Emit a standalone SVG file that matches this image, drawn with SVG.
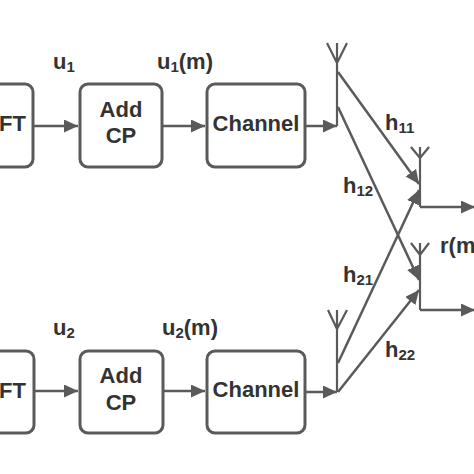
<svg xmlns="http://www.w3.org/2000/svg" width="474" height="474" viewBox="0 0 474 474">
<style>
  .box{fill:#ffffff;stroke:#5a5a5a;stroke-width:3}
  .ln{fill:none;stroke:#5a5a5a;stroke-width:2.5}
  .ant{fill:none;stroke:#5a5a5a;stroke-width:2.2}
  .t{font-family:"Liberation Sans",Arial,sans-serif;font-weight:bold;font-size:22px;fill:#333333}
  .c{text-anchor:middle}
</style>
<defs>
  <marker id="ah" markerUnits="userSpaceOnUse" markerWidth="16" markerHeight="14" refX="14" refY="6.5" orient="auto">
    <path d="M0,0 L14,6.5 L0,13 Z" fill="#5a5a5a"/>
  </marker>
</defs>
<rect width="474" height="474" fill="#ffffff"/>

<g id="ifft1">
  <rect class="box" x="-20" y="84" width="53" height="83" rx="8"/>
  <text class="t" x="26" y="131" text-anchor="end">IFFT</text>
</g>
<g id="addcp1">
  <rect class="box" x="80" y="84" width="82" height="83" rx="8"/>
  <text class="t c" x="121" y="117">Add</text>
  <text class="t c" x="121" y="143">CP</text>
</g>
<g id="channel1">
  <rect class="box" x="207" y="84" width="98" height="83" rx="8"/>
  <text class="t c" x="256" y="131">Channel</text>
</g>
<g id="ifft2">
  <rect class="box" x="-20" y="351" width="54" height="82" rx="8"/>
  <text class="t" x="26" y="398" text-anchor="end">IFFT</text>
</g>
<g id="addcp2">
  <rect class="box" x="80" y="351" width="83" height="82" rx="8"/>
  <text class="t c" x="121" y="383">Add</text>
  <text class="t c" x="121" y="410">CP</text>
</g>
<g id="channel2">
  <rect class="box" x="207" y="351" width="98" height="82" rx="8"/>
  <text class="t c" x="256" y="397">Channel</text>
</g>

<g id="tx1">
  <path class="ant" d="M337,43 V126 M327,43 L337,63 L347,43"/>
</g>
<g id="tx2">
  <path class="ant" d="M337,310 V392 M328,310 L337,329 L347,310"/>
</g>
<g id="rx1">
  <path class="ant" d="M420,147 V207 M411,147 L420,158 L429,147"/>
</g>
<g id="rx2">
  <path class="ant" d="M420,243 V310 M411,243 L420,255 L429,243"/>
</g>

<g id="connectors">
  <line class="ln" x1="34" y1="126" x2="78" y2="126" marker-end="url(#ah)"/>
  <line class="ln" x1="162" y1="126" x2="205" y2="126" marker-end="url(#ah)"/>
  <line class="ln" x1="305" y1="126" x2="337" y2="126" marker-end="url(#ah)"/>
  <line class="ln" x1="35" y1="391" x2="78" y2="391" marker-end="url(#ah)"/>
  <line class="ln" x1="163" y1="391" x2="205" y2="391" marker-end="url(#ah)"/>
  <line class="ln" x1="305" y1="392" x2="337" y2="392" marker-end="url(#ah)"/>
  <line class="ln" x1="338" y1="72" x2="419" y2="184" marker-end="url(#ah)"/>
  <line class="ln" x1="338" y1="107" x2="419" y2="280" marker-end="url(#ah)"/>
  <line class="ln" x1="338" y1="363" x2="419" y2="190" marker-end="url(#ah)"/>
  <line class="ln" x1="338" y1="392" x2="419" y2="290" marker-end="url(#ah)"/>
  <line class="ln" x1="420" y1="207" x2="475" y2="207" marker-end="url(#ah)"/>
  <line class="ln" x1="420" y1="310" x2="475" y2="310" marker-end="url(#ah)"/>
</g>

<g id="labels">
  <text class="t" x="53" y="69">u<tspan font-size="15" dy="3">1</tspan></text>
  <text class="t" x="157" y="69">u<tspan font-size="15" dy="3">1</tspan><tspan dy="-3">(m)</tspan></text>
  <text class="t" x="53" y="335">u<tspan font-size="15" dy="3">2</tspan></text>
  <text class="t" x="162" y="335">u<tspan font-size="15" dy="3">2</tspan><tspan dy="-3">(m)</tspan></text>
  <text class="t" x="385" y="130">h<tspan font-size="15" dy="3">11</tspan></text>
  <text class="t" x="343" y="193">h<tspan font-size="15" dy="3">12</tspan></text>
  <text class="t" x="343" y="282">h<tspan font-size="15" dy="3">21</tspan></text>
  <text class="t" x="385" y="357">h<tspan font-size="15" dy="3">22</tspan></text>
  <text class="t" x="440" y="253">r(m)</text>
</g>
</svg>
